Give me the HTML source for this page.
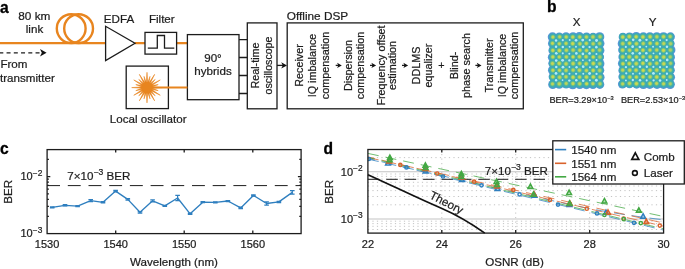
<!DOCTYPE html>
<html><head><meta charset="utf-8"><title>Figure</title>
<style>
html,body{margin:0;padding:0;background:#fff;}
svg{display:block;font-family:"Liberation Sans",sans-serif;fill:#1c1c1c;}
text{stroke:#1c1c1c;stroke-width:0.22px;}
.b{font-weight:bold;font-size:15.6px;fill:#000;stroke:#000;stroke-width:0.3px;}
.t{font-size:11.6px;}
.d{font-size:10.8px;}
.k{font-size:11px;}
.s{font-size:9.2px;}
.ln{stroke:#1c1c1c;stroke-width:1.3;fill:none;}
.or{stroke:#e8851f;fill:none;}
.wf{fill:#fff;}
</style></head><body>
<svg width="685" height="269" viewBox="0 0 685 269">
<rect width="685" height="269" fill="#fff"/>

<g id="panel-a">
<text class="b" x="0" y="12.8">a</text>
<text class="t" x="34.3" y="20" text-anchor="middle" style="font-size:11.8px">80 km</text>
<text class="t" x="34.5" y="33" text-anchor="middle">link</text>
<path class="or" stroke-width="2.2" d="M0 43.1H105.5"/>
<ellipse class="or" stroke-width="2.4" cx="71.2" cy="28.6" rx="14.4" ry="14.4"/>
<ellipse class="or" stroke-width="2.4" cx="78.6" cy="28.6" rx="14.4" ry="14.4"/>
<path class="or" stroke-width="2.2" d="M135 43.1H145M176.6 43.1H187.3"/>
<path d="M0 52.8H40" stroke="#1c1c1c" stroke-width="1.3" stroke-dasharray="4 3.25" stroke-dashoffset="0.7" fill="none"/>
<path d="M46.6 52.8L40 49L41.8 52.8L40 56.6Z" fill="#111"/>
<text class="t" x="0.4" y="68.4">From</text>
<text class="t" x="0" y="82.3">transmitter</text>
<text class="t" x="119" y="23.3" text-anchor="middle">EDFA</text>
<path class="ln" d="M105.6 26.3V60.5L135 43.3Z" fill="#fff"/>
<text class="t" x="161.8" y="23.3" text-anchor="middle">Filter</text>
<rect class="ln" x="145" y="32.4" width="31.6" height="21.7" fill="#fff"/>
<path class="ln" d="M147.8 48.1H157.3V35.5H164.5V48.1H174.3"/>
<rect class="ln" x="187.4" y="34.6" width="51.6" height="65.1" fill="#fff"/>
<text class="t" x="213" y="62.3" text-anchor="middle">90°</text>
<text class="t" x="213" y="75.3" text-anchor="middle">hybrids</text>
<rect class="ln" x="126.2" y="66.1" width="42.2" height="42.5" fill="#fff"/>
<path d="M152.16 86.92L162.30 87.60L152.16 88.28L158.20 90.60L151.80 89.59L160.25 95.25L151.13 90.77L155.20 95.80L150.17 91.73L154.65 100.85L148.99 92.40L150.00 98.80L147.68 92.76L147.00 102.90L146.32 92.76L144.00 98.80L145.01 92.40L139.35 100.85L143.83 91.73L138.80 95.80L142.87 90.77L133.75 95.25L142.20 89.59L135.80 90.60L141.84 88.28L131.70 87.60L141.84 86.92L135.80 84.60L142.20 85.61L133.75 79.95L142.87 84.43L138.80 79.40L143.83 83.47L139.35 74.35L145.01 82.80L144.00 76.40L146.32 82.44L147.00 72.30L147.68 82.44L150.00 76.40L148.99 82.80L154.65 74.35L150.17 83.47L155.20 79.40L151.13 84.43L160.25 79.95L151.80 85.61L158.20 84.60Z" fill="#e8851f" stroke="#e8851f" stroke-width="0.55" stroke-linejoin="miter"/>
<circle cx="147" cy="87.6" r="5.7" fill="#e8851f"/>
<path class="or" stroke-width="1.9" d="M147 87.5H187.4"/>
<text class="t" x="148.2" y="123.3" text-anchor="middle">Local oscillator</text>
<path class="ln" d="M239 39.6H247.3M239 57.5H247.3M239 75.5H247.3M239 93.5H247.3"/>
<rect class="ln" x="247.3" y="22.9" width="29.7" height="85.9" fill="#fff"/>
<text class="d" transform="translate(258.8 65.5) rotate(-90)" text-anchor="middle">Real-time</text>
<text class="d" transform="translate(271.6 65.5) rotate(-90)" text-anchor="middle" textLength="57.8" lengthAdjust="spacingAndGlyphs">oscilloscope</text>
<path class="ln" d="M277 65.4H283"/>
<path d="M287 65.4L281.2 62.3L282.8 65.4L281.2 68.5Z" fill="#111"/>
<text x="286.8" y="19.5" font-size="11.8">Offline DSP</text>
<rect class="ln" x="287.2" y="22.9" width="236.1" height="85.9" fill="#fff"/>
<text class="d" transform="translate(303.2 65.5) rotate(-90)" text-anchor="middle">Receiver</text>
<text class="d" transform="translate(315.9 65.5) rotate(-90)" text-anchor="middle">IQ imbalance</text>
<text class="d" transform="translate(328.5 65.5) rotate(-90)" text-anchor="middle" textLength="67.4" lengthAdjust="spacingAndGlyphs">compensation</text>
<text class="d" transform="translate(352.4 65.5) rotate(-90)" text-anchor="middle">Dispersion</text>
<text class="d" transform="translate(364.3 65.5) rotate(-90)" text-anchor="middle" textLength="67.4" lengthAdjust="spacingAndGlyphs">compensation</text>
<text class="d" transform="translate(384.5 65.5) rotate(-90)" text-anchor="middle">Frequency offset</text>
<text class="d" transform="translate(396.3 65.5) rotate(-90)" text-anchor="middle">estimation</text>
<text class="d" transform="translate(419.6 65.5) rotate(-90)" text-anchor="middle">DDLMS</text>
<text class="d" transform="translate(432 65.5) rotate(-90)" text-anchor="middle">equalizer</text>
<text class="d" transform="translate(457.6 65.5) rotate(-90)" text-anchor="middle">Blind-</text>
<text class="d" transform="translate(470 65.5) rotate(-90)" text-anchor="middle">phase search</text>
<text class="d" transform="translate(493.1 65.5) rotate(-90)" text-anchor="middle">Transmitter</text>
<text class="d" transform="translate(505.8 65.5) rotate(-90)" text-anchor="middle">IQ imbalance</text>
<text class="d" transform="translate(518.3 65.5) rotate(-90)" text-anchor="middle" textLength="67.4" lengthAdjust="spacingAndGlyphs">compensation</text>
<path class="ln" d="M335.7 65.4H339.0"/>
<path d="M341.8 65.4L337.1 62.7L338.3 65.4L337.1 68.1Z" fill="#111"/>
<path class="ln" d="M370.0 65.4H373.3"/>
<path d="M376.1 65.4L371.40000000000003 62.7L372.6 65.4L371.40000000000003 68.1Z" fill="#111"/>
<path class="ln" d="M402.0 65.4H405.3"/>
<path d="M408.1 65.4L403.40000000000003 62.7L404.6 65.4L403.40000000000003 68.1Z" fill="#111"/>
<path class="ln" d="M475.4 65.4H478.7"/>
<path d="M481.5 65.4L476.8 62.7L478.0 65.4L476.8 68.1Z" fill="#111"/>
<text class="d" x="441.3" y="69" text-anchor="middle">+</text>
</g>
<g id="panel-b">
<text class="b" x="547" y="12.3">b</text>
<text class="t" x="576.6" y="25.6" text-anchor="middle">X</text>
<text class="t" x="652.7" y="25.6" text-anchor="middle">Y</text>
<defs>
<radialGradient id="dot"><stop offset="0" stop-color="#dcd848"/><stop offset="0.3" stop-color="#c8d854"/><stop offset="0.6" stop-color="#70c47c"/><stop offset="1" stop-color="#3aa4b0" stop-opacity="0"/></radialGradient>
<filter id="bl" x="-10%" y="-10%" width="120%" height="120%"><feGaussianBlur stdDeviation="0.6"/></filter>
</defs>
<g filter="url(#bl)"><circle cx="552.48" cy="37.11" r="4.76" fill="#5596d6"/><circle cx="552.55" cy="43.59" r="4.57" fill="#5596d6"/><circle cx="552.79" cy="50.45" r="4.36" fill="#5596d6"/><circle cx="552.42" cy="57.17" r="4.56" fill="#5596d6"/><circle cx="552.86" cy="63.36" r="4.57" fill="#5596d6"/><circle cx="552.83" cy="70.19" r="4.87" fill="#5596d6"/><circle cx="552.94" cy="76.76" r="4.32" fill="#5596d6"/><circle cx="552.72" cy="84.49" r="4.53" fill="#5596d6"/><circle cx="559.26" cy="36.85" r="4.32" fill="#5596d6"/><circle cx="559.26" cy="84.19" r="4.60" fill="#5596d6"/><circle cx="566.00" cy="36.74" r="4.43" fill="#5596d6"/><circle cx="566.14" cy="84.10" r="4.31" fill="#5596d6"/><circle cx="573.09" cy="36.93" r="4.69" fill="#5596d6"/><circle cx="572.70" cy="84.53" r="4.82" fill="#5596d6"/><circle cx="579.39" cy="36.80" r="4.73" fill="#5596d6"/><circle cx="579.75" cy="84.49" r="4.55" fill="#5596d6"/><circle cx="586.55" cy="37.00" r="4.48" fill="#5596d6"/><circle cx="586.40" cy="84.46" r="4.81" fill="#5596d6"/><circle cx="593.08" cy="36.95" r="4.32" fill="#5596d6"/><circle cx="592.93" cy="84.41" r="4.55" fill="#5596d6"/><circle cx="599.61" cy="36.93" r="4.72" fill="#5596d6"/><circle cx="599.91" cy="43.51" r="4.56" fill="#5596d6"/><circle cx="599.82" cy="50.45" r="4.61" fill="#5596d6"/><circle cx="599.75" cy="56.96" r="4.32" fill="#5596d6"/><circle cx="599.54" cy="63.78" r="4.89" fill="#5596d6"/><circle cx="599.87" cy="70.29" r="4.40" fill="#5596d6"/><circle cx="599.81" cy="77.33" r="4.76" fill="#5596d6"/><circle cx="599.83" cy="84.45" r="4.44" fill="#5596d6"/><rect x="550.10" y="34.30" width="52.31" height="52.63" fill="#3caab6"/><circle cx="552.70" cy="36.90" r="3.7" fill="#3caab6"/><circle cx="552.70" cy="43.59" r="3.7" fill="#3caab6"/><circle cx="552.70" cy="50.28" r="3.7" fill="#3caab6"/><circle cx="552.70" cy="56.97" r="3.7" fill="#3caab6"/><circle cx="552.70" cy="63.66" r="3.7" fill="#3caab6"/><circle cx="552.70" cy="70.35" r="3.7" fill="#3caab6"/><circle cx="552.70" cy="77.04" r="3.7" fill="#3caab6"/><circle cx="552.70" cy="84.13" r="3.7" fill="#3caab6"/><circle cx="559.43" cy="36.90" r="3.7" fill="#3caab6"/><circle cx="559.43" cy="84.13" r="3.7" fill="#3caab6"/><circle cx="566.16" cy="36.90" r="3.7" fill="#3caab6"/><circle cx="566.16" cy="84.13" r="3.7" fill="#3caab6"/><circle cx="572.89" cy="36.90" r="3.7" fill="#3caab6"/><circle cx="572.89" cy="84.13" r="3.7" fill="#3caab6"/><circle cx="579.62" cy="36.90" r="3.7" fill="#3caab6"/><circle cx="579.62" cy="84.13" r="3.7" fill="#3caab6"/><circle cx="586.35" cy="36.90" r="3.7" fill="#3caab6"/><circle cx="586.35" cy="84.13" r="3.7" fill="#3caab6"/><circle cx="593.08" cy="36.90" r="3.7" fill="#3caab6"/><circle cx="593.08" cy="84.13" r="3.7" fill="#3caab6"/><circle cx="599.81" cy="36.90" r="3.7" fill="#3caab6"/><circle cx="599.81" cy="43.59" r="3.7" fill="#3caab6"/><circle cx="599.81" cy="50.28" r="3.7" fill="#3caab6"/><circle cx="599.81" cy="56.97" r="3.7" fill="#3caab6"/><circle cx="599.81" cy="63.66" r="3.7" fill="#3caab6"/><circle cx="599.81" cy="70.35" r="3.7" fill="#3caab6"/><circle cx="599.81" cy="77.04" r="3.7" fill="#3caab6"/><circle cx="599.81" cy="84.13" r="3.7" fill="#3caab6"/><circle cx="556.07" cy="40.52" r="1.25" fill="#b0eefb"/><circle cx="556.04" cy="46.80" r="1.23" fill="#b0eefb"/><circle cx="556.34" cy="53.33" r="1.37" fill="#b0eefb"/><circle cx="556.26" cy="60.55" r="1.34" fill="#b0eefb"/><circle cx="556.25" cy="67.02" r="1.24" fill="#b0eefb"/><circle cx="556.02" cy="73.43" r="1.42" fill="#b0eefb"/><circle cx="556.11" cy="80.20" r="1.20" fill="#b0eefb"/><circle cx="562.79" cy="40.16" r="1.11" fill="#b0eefb"/><circle cx="562.82" cy="47.01" r="1.27" fill="#b0eefb"/><circle cx="562.77" cy="53.34" r="1.04" fill="#b0eefb"/><circle cx="562.60" cy="60.37" r="1.42" fill="#b0eefb"/><circle cx="562.97" cy="67.18" r="1.39" fill="#b0eefb"/><circle cx="562.65" cy="73.90" r="1.30" fill="#b0eefb"/><circle cx="562.54" cy="80.10" r="0.91" fill="#b0eefb"/><circle cx="569.68" cy="40.09" r="0.97" fill="#b0eefb"/><circle cx="569.60" cy="46.84" r="0.94" fill="#b0eefb"/><circle cx="569.32" cy="53.64" r="1.00" fill="#b0eefb"/><circle cx="569.39" cy="60.44" r="1.17" fill="#b0eefb"/><circle cx="569.42" cy="66.99" r="0.91" fill="#b0eefb"/><circle cx="569.46" cy="73.65" r="1.01" fill="#b0eefb"/><circle cx="569.29" cy="80.62" r="1.21" fill="#b0eefb"/><circle cx="576.08" cy="40.31" r="1.39" fill="#b0eefb"/><circle cx="575.97" cy="46.65" r="0.99" fill="#b0eefb"/><circle cx="576.39" cy="53.42" r="1.32" fill="#b0eefb"/><circle cx="576.36" cy="60.34" r="1.03" fill="#b0eefb"/><circle cx="576.54" cy="67.18" r="1.21" fill="#b0eefb"/><circle cx="576.09" cy="73.78" r="1.14" fill="#b0eefb"/><circle cx="576.30" cy="80.28" r="1.28" fill="#b0eefb"/><circle cx="582.72" cy="40.12" r="1.48" fill="#b0eefb"/><circle cx="583.21" cy="46.82" r="1.42" fill="#b0eefb"/><circle cx="582.87" cy="53.89" r="1.35" fill="#b0eefb"/><circle cx="582.93" cy="60.17" r="0.91" fill="#b0eefb"/><circle cx="583.21" cy="66.73" r="1.39" fill="#b0eefb"/><circle cx="583.26" cy="73.74" r="1.00" fill="#b0eefb"/><circle cx="583.21" cy="80.67" r="1.32" fill="#b0eefb"/><circle cx="589.72" cy="40.17" r="1.11" fill="#b0eefb"/><circle cx="589.54" cy="47.04" r="1.16" fill="#b0eefb"/><circle cx="589.53" cy="53.39" r="1.30" fill="#b0eefb"/><circle cx="589.59" cy="60.31" r="1.10" fill="#b0eefb"/><circle cx="589.94" cy="67.24" r="0.91" fill="#b0eefb"/><circle cx="589.54" cy="73.59" r="1.49" fill="#b0eefb"/><circle cx="589.88" cy="80.29" r="1.03" fill="#b0eefb"/><circle cx="596.55" cy="40.45" r="1.46" fill="#b0eefb"/><circle cx="596.35" cy="47.16" r="1.31" fill="#b0eefb"/><circle cx="596.44" cy="53.92" r="1.04" fill="#b0eefb"/><circle cx="596.58" cy="60.07" r="1.00" fill="#b0eefb"/><circle cx="596.69" cy="66.83" r="1.36" fill="#b0eefb"/><circle cx="596.51" cy="73.90" r="1.12" fill="#b0eefb"/><circle cx="596.35" cy="80.26" r="1.42" fill="#b0eefb"/><circle cx="552.93" cy="37.09" r="3.20" fill="url(#dot)" opacity="0.95"/><circle cx="552.50" cy="43.36" r="3.18" fill="url(#dot)" opacity="0.95"/><circle cx="552.84" cy="50.44" r="3.27" fill="url(#dot)" opacity="0.98"/><circle cx="552.84" cy="56.91" r="3.35" fill="url(#dot)" opacity="0.95"/><circle cx="552.49" cy="63.54" r="3.46" fill="url(#dot)" opacity="0.91"/><circle cx="552.91" cy="70.33" r="3.25" fill="url(#dot)" opacity="0.95"/><circle cx="552.86" cy="76.80" r="3.38" fill="url(#dot)" opacity="0.97"/><circle cx="552.51" cy="83.92" r="3.16" fill="url(#dot)" opacity="0.89"/><circle cx="559.67" cy="36.86" r="3.19" fill="url(#dot)" opacity="0.91"/><circle cx="559.30" cy="43.71" r="3.19" fill="url(#dot)" opacity="0.90"/><circle cx="559.37" cy="50.52" r="3.47" fill="url(#dot)" opacity="0.99"/><circle cx="559.31" cy="56.96" r="3.19" fill="url(#dot)" opacity="0.92"/><circle cx="559.20" cy="63.42" r="3.49" fill="url(#dot)" opacity="0.96"/><circle cx="559.48" cy="70.32" r="3.26" fill="url(#dot)" opacity="0.92"/><circle cx="559.64" cy="77.27" r="3.49" fill="url(#dot)" opacity="0.89"/><circle cx="559.29" cy="83.79" r="3.49" fill="url(#dot)" opacity="0.89"/><circle cx="566.25" cy="36.98" r="3.24" fill="url(#dot)" opacity="0.95"/><circle cx="566.06" cy="43.46" r="3.18" fill="url(#dot)" opacity="0.94"/><circle cx="566.40" cy="50.25" r="3.38" fill="url(#dot)" opacity="0.91"/><circle cx="566.38" cy="56.92" r="3.26" fill="url(#dot)" opacity="0.96"/><circle cx="566.07" cy="63.83" r="3.46" fill="url(#dot)" opacity="0.92"/><circle cx="566.08" cy="70.37" r="3.35" fill="url(#dot)" opacity="0.92"/><circle cx="566.03" cy="76.80" r="3.24" fill="url(#dot)" opacity="0.95"/><circle cx="566.19" cy="83.52" r="3.18" fill="url(#dot)" opacity="0.89"/><circle cx="572.79" cy="37.05" r="3.32" fill="url(#dot)" opacity="0.96"/><circle cx="572.72" cy="43.59" r="3.43" fill="url(#dot)" opacity="0.98"/><circle cx="573.11" cy="50.12" r="3.42" fill="url(#dot)" opacity="0.89"/><circle cx="573.05" cy="56.88" r="3.19" fill="url(#dot)" opacity="1.00"/><circle cx="573.10" cy="63.56" r="3.46" fill="url(#dot)" opacity="0.94"/><circle cx="573.10" cy="70.12" r="3.26" fill="url(#dot)" opacity="0.90"/><circle cx="573.04" cy="77.24" r="3.44" fill="url(#dot)" opacity="0.99"/><circle cx="572.98" cy="83.57" r="3.30" fill="url(#dot)" opacity="0.97"/><circle cx="579.73" cy="36.98" r="3.24" fill="url(#dot)" opacity="0.90"/><circle cx="579.85" cy="43.74" r="3.34" fill="url(#dot)" opacity="0.89"/><circle cx="579.80" cy="50.26" r="3.29" fill="url(#dot)" opacity="0.94"/><circle cx="579.50" cy="56.73" r="3.38" fill="url(#dot)" opacity="0.92"/><circle cx="579.66" cy="63.44" r="3.27" fill="url(#dot)" opacity="0.93"/><circle cx="579.43" cy="70.23" r="3.44" fill="url(#dot)" opacity="0.90"/><circle cx="579.57" cy="77.10" r="3.23" fill="url(#dot)" opacity="0.93"/><circle cx="579.63" cy="83.73" r="3.38" fill="url(#dot)" opacity="0.88"/><circle cx="586.44" cy="37.02" r="3.23" fill="url(#dot)" opacity="0.93"/><circle cx="586.34" cy="43.45" r="3.29" fill="url(#dot)" opacity="0.94"/><circle cx="586.55" cy="50.49" r="3.25" fill="url(#dot)" opacity="0.95"/><circle cx="586.12" cy="56.76" r="3.33" fill="url(#dot)" opacity="0.96"/><circle cx="586.18" cy="63.79" r="3.46" fill="url(#dot)" opacity="0.99"/><circle cx="586.45" cy="70.52" r="3.28" fill="url(#dot)" opacity="0.92"/><circle cx="586.47" cy="77.09" r="3.45" fill="url(#dot)" opacity="0.96"/><circle cx="586.58" cy="83.77" r="3.21" fill="url(#dot)" opacity="0.99"/><circle cx="592.94" cy="36.93" r="3.42" fill="url(#dot)" opacity="0.91"/><circle cx="593.17" cy="43.70" r="3.27" fill="url(#dot)" opacity="0.89"/><circle cx="592.91" cy="50.39" r="3.16" fill="url(#dot)" opacity="0.94"/><circle cx="593.23" cy="57.03" r="3.24" fill="url(#dot)" opacity="1.00"/><circle cx="593.31" cy="63.48" r="3.42" fill="url(#dot)" opacity="0.99"/><circle cx="593.16" cy="70.45" r="3.31" fill="url(#dot)" opacity="0.98"/><circle cx="593.32" cy="76.98" r="3.43" fill="url(#dot)" opacity="0.99"/><circle cx="592.91" cy="83.64" r="3.19" fill="url(#dot)" opacity="0.93"/><circle cx="600.04" cy="36.71" r="3.36" fill="url(#dot)" opacity="0.84"/><circle cx="599.62" cy="43.49" r="3.24" fill="url(#dot)" opacity="0.79"/><circle cx="599.56" cy="50.12" r="3.30" fill="url(#dot)" opacity="0.82"/><circle cx="599.87" cy="57.02" r="3.44" fill="url(#dot)" opacity="0.75"/><circle cx="599.70" cy="63.68" r="3.25" fill="url(#dot)" opacity="0.77"/><circle cx="599.69" cy="70.44" r="3.43" fill="url(#dot)" opacity="0.81"/><circle cx="600.05" cy="77.06" r="3.32" fill="url(#dot)" opacity="0.83"/><circle cx="599.94" cy="83.77" r="3.28" fill="url(#dot)" opacity="0.84"/></g>
<g filter="url(#bl)"><circle cx="622.97" cy="37.07" r="4.33" fill="#5596d6"/><circle cx="622.45" cy="43.69" r="4.74" fill="#5596d6"/><circle cx="622.80" cy="50.06" r="4.66" fill="#5596d6"/><circle cx="622.76" cy="56.92" r="4.40" fill="#5596d6"/><circle cx="622.66" cy="63.50" r="4.73" fill="#5596d6"/><circle cx="623.00" cy="70.52" r="4.63" fill="#5596d6"/><circle cx="622.67" cy="76.80" r="4.32" fill="#5596d6"/><circle cx="622.42" cy="84.11" r="4.49" fill="#5596d6"/><circle cx="629.44" cy="37.04" r="4.62" fill="#5596d6"/><circle cx="629.55" cy="83.97" r="4.31" fill="#5596d6"/><circle cx="636.22" cy="36.58" r="4.61" fill="#5596d6"/><circle cx="636.62" cy="84.23" r="4.41" fill="#5596d6"/><circle cx="643.37" cy="36.98" r="4.74" fill="#5596d6"/><circle cx="643.37" cy="84.29" r="4.77" fill="#5596d6"/><circle cx="649.85" cy="37.09" r="4.88" fill="#5596d6"/><circle cx="649.74" cy="84.28" r="4.73" fill="#5596d6"/><circle cx="656.73" cy="36.82" r="4.59" fill="#5596d6"/><circle cx="657.00" cy="84.13" r="4.80" fill="#5596d6"/><circle cx="663.47" cy="37.03" r="4.84" fill="#5596d6"/><circle cx="663.54" cy="84.17" r="4.85" fill="#5596d6"/><circle cx="670.50" cy="36.79" r="4.43" fill="#5596d6"/><circle cx="670.26" cy="43.61" r="4.40" fill="#5596d6"/><circle cx="670.61" cy="50.04" r="4.85" fill="#5596d6"/><circle cx="670.26" cy="57.14" r="4.72" fill="#5596d6"/><circle cx="670.37" cy="63.57" r="4.69" fill="#5596d6"/><circle cx="670.42" cy="70.14" r="4.42" fill="#5596d6"/><circle cx="670.38" cy="77.20" r="4.67" fill="#5596d6"/><circle cx="670.12" cy="84.32" r="4.74" fill="#5596d6"/><rect x="620.10" y="34.20" width="52.87" height="52.63" fill="#3caab6"/><circle cx="622.70" cy="36.80" r="3.7" fill="#3caab6"/><circle cx="622.70" cy="43.49" r="3.7" fill="#3caab6"/><circle cx="622.70" cy="50.18" r="3.7" fill="#3caab6"/><circle cx="622.70" cy="56.87" r="3.7" fill="#3caab6"/><circle cx="622.70" cy="63.56" r="3.7" fill="#3caab6"/><circle cx="622.70" cy="70.25" r="3.7" fill="#3caab6"/><circle cx="622.70" cy="76.94" r="3.7" fill="#3caab6"/><circle cx="622.70" cy="84.03" r="3.7" fill="#3caab6"/><circle cx="629.51" cy="36.80" r="3.7" fill="#3caab6"/><circle cx="629.51" cy="84.03" r="3.7" fill="#3caab6"/><circle cx="636.32" cy="36.80" r="3.7" fill="#3caab6"/><circle cx="636.32" cy="84.03" r="3.7" fill="#3caab6"/><circle cx="643.13" cy="36.80" r="3.7" fill="#3caab6"/><circle cx="643.13" cy="84.03" r="3.7" fill="#3caab6"/><circle cx="649.94" cy="36.80" r="3.7" fill="#3caab6"/><circle cx="649.94" cy="84.03" r="3.7" fill="#3caab6"/><circle cx="656.75" cy="36.80" r="3.7" fill="#3caab6"/><circle cx="656.75" cy="84.03" r="3.7" fill="#3caab6"/><circle cx="663.56" cy="36.80" r="3.7" fill="#3caab6"/><circle cx="663.56" cy="84.03" r="3.7" fill="#3caab6"/><circle cx="670.37" cy="36.80" r="3.7" fill="#3caab6"/><circle cx="670.37" cy="43.49" r="3.7" fill="#3caab6"/><circle cx="670.37" cy="50.18" r="3.7" fill="#3caab6"/><circle cx="670.37" cy="56.87" r="3.7" fill="#3caab6"/><circle cx="670.37" cy="63.56" r="3.7" fill="#3caab6"/><circle cx="670.37" cy="70.25" r="3.7" fill="#3caab6"/><circle cx="670.37" cy="76.94" r="3.7" fill="#3caab6"/><circle cx="670.37" cy="84.03" r="3.7" fill="#3caab6"/><circle cx="626.35" cy="39.96" r="1.35" fill="#b0eefb"/><circle cx="625.84" cy="46.93" r="1.06" fill="#b0eefb"/><circle cx="625.94" cy="53.75" r="0.96" fill="#b0eefb"/><circle cx="626.12" cy="60.43" r="1.05" fill="#b0eefb"/><circle cx="625.93" cy="67.13" r="1.15" fill="#b0eefb"/><circle cx="626.24" cy="73.31" r="1.12" fill="#b0eefb"/><circle cx="625.91" cy="80.39" r="0.95" fill="#b0eefb"/><circle cx="633.19" cy="39.86" r="1.34" fill="#b0eefb"/><circle cx="632.63" cy="46.69" r="1.39" fill="#b0eefb"/><circle cx="632.71" cy="53.34" r="1.31" fill="#b0eefb"/><circle cx="632.85" cy="59.94" r="1.49" fill="#b0eefb"/><circle cx="632.71" cy="66.63" r="1.11" fill="#b0eefb"/><circle cx="632.98" cy="73.74" r="0.97" fill="#b0eefb"/><circle cx="632.82" cy="80.00" r="1.17" fill="#b0eefb"/><circle cx="639.88" cy="40.29" r="1.44" fill="#b0eefb"/><circle cx="639.88" cy="47.05" r="1.32" fill="#b0eefb"/><circle cx="639.71" cy="53.36" r="1.30" fill="#b0eefb"/><circle cx="639.61" cy="59.98" r="1.17" fill="#b0eefb"/><circle cx="639.95" cy="66.68" r="1.25" fill="#b0eefb"/><circle cx="639.66" cy="73.60" r="0.99" fill="#b0eefb"/><circle cx="640.00" cy="80.14" r="1.26" fill="#b0eefb"/><circle cx="646.49" cy="39.86" r="1.23" fill="#b0eefb"/><circle cx="646.32" cy="46.57" r="0.92" fill="#b0eefb"/><circle cx="646.33" cy="53.28" r="1.28" fill="#b0eefb"/><circle cx="646.54" cy="60.51" r="1.46" fill="#b0eefb"/><circle cx="646.83" cy="66.74" r="1.17" fill="#b0eefb"/><circle cx="646.39" cy="73.65" r="1.27" fill="#b0eefb"/><circle cx="646.72" cy="80.41" r="1.05" fill="#b0eefb"/><circle cx="653.30" cy="40.16" r="0.90" fill="#b0eefb"/><circle cx="653.07" cy="46.78" r="0.97" fill="#b0eefb"/><circle cx="653.48" cy="53.37" r="0.96" fill="#b0eefb"/><circle cx="653.15" cy="60.05" r="1.03" fill="#b0eefb"/><circle cx="653.36" cy="66.88" r="1.09" fill="#b0eefb"/><circle cx="653.43" cy="73.42" r="1.44" fill="#b0eefb"/><circle cx="653.62" cy="80.42" r="1.16" fill="#b0eefb"/><circle cx="660.16" cy="40.19" r="0.93" fill="#b0eefb"/><circle cx="660.11" cy="46.85" r="1.01" fill="#b0eefb"/><circle cx="659.91" cy="53.71" r="1.12" fill="#b0eefb"/><circle cx="660.17" cy="60.47" r="1.27" fill="#b0eefb"/><circle cx="660.03" cy="67.20" r="1.12" fill="#b0eefb"/><circle cx="659.87" cy="73.71" r="0.96" fill="#b0eefb"/><circle cx="660.04" cy="80.49" r="1.30" fill="#b0eefb"/><circle cx="666.67" cy="40.12" r="1.15" fill="#b0eefb"/><circle cx="666.96" cy="46.66" r="1.25" fill="#b0eefb"/><circle cx="666.71" cy="53.40" r="1.12" fill="#b0eefb"/><circle cx="667.23" cy="59.96" r="1.35" fill="#b0eefb"/><circle cx="666.78" cy="66.95" r="1.14" fill="#b0eefb"/><circle cx="666.94" cy="73.75" r="1.14" fill="#b0eefb"/><circle cx="666.74" cy="80.06" r="0.95" fill="#b0eefb"/><circle cx="622.77" cy="37.03" r="3.39" fill="url(#dot)" opacity="0.98"/><circle cx="622.78" cy="43.63" r="3.40" fill="url(#dot)" opacity="0.88"/><circle cx="622.63" cy="50.16" r="3.43" fill="url(#dot)" opacity="0.94"/><circle cx="622.71" cy="56.86" r="3.48" fill="url(#dot)" opacity="0.91"/><circle cx="622.92" cy="63.73" r="3.25" fill="url(#dot)" opacity="0.98"/><circle cx="622.69" cy="70.13" r="3.30" fill="url(#dot)" opacity="0.91"/><circle cx="622.91" cy="76.98" r="3.44" fill="url(#dot)" opacity="0.96"/><circle cx="622.63" cy="83.88" r="3.20" fill="url(#dot)" opacity="0.89"/><circle cx="629.29" cy="36.59" r="3.46" fill="url(#dot)" opacity="0.93"/><circle cx="629.58" cy="43.30" r="3.25" fill="url(#dot)" opacity="1.00"/><circle cx="629.60" cy="50.27" r="3.30" fill="url(#dot)" opacity="0.91"/><circle cx="629.32" cy="56.89" r="3.48" fill="url(#dot)" opacity="0.94"/><circle cx="629.31" cy="63.57" r="3.40" fill="url(#dot)" opacity="0.97"/><circle cx="629.71" cy="70.23" r="3.40" fill="url(#dot)" opacity="0.91"/><circle cx="629.76" cy="77.08" r="3.35" fill="url(#dot)" opacity="0.93"/><circle cx="629.48" cy="83.39" r="3.36" fill="url(#dot)" opacity="0.90"/><circle cx="636.16" cy="36.81" r="3.32" fill="url(#dot)" opacity="0.99"/><circle cx="636.43" cy="43.71" r="3.40" fill="url(#dot)" opacity="0.93"/><circle cx="636.55" cy="50.10" r="3.41" fill="url(#dot)" opacity="0.94"/><circle cx="636.45" cy="57.05" r="3.23" fill="url(#dot)" opacity="0.96"/><circle cx="636.27" cy="63.64" r="3.49" fill="url(#dot)" opacity="0.95"/><circle cx="636.08" cy="70.23" r="3.40" fill="url(#dot)" opacity="0.96"/><circle cx="636.40" cy="77.10" r="3.16" fill="url(#dot)" opacity="0.99"/><circle cx="636.43" cy="83.68" r="3.47" fill="url(#dot)" opacity="0.99"/><circle cx="642.93" cy="36.96" r="3.42" fill="url(#dot)" opacity="0.99"/><circle cx="643.25" cy="43.53" r="3.22" fill="url(#dot)" opacity="0.90"/><circle cx="642.95" cy="50.24" r="3.30" fill="url(#dot)" opacity="0.98"/><circle cx="643.16" cy="56.85" r="3.22" fill="url(#dot)" opacity="0.91"/><circle cx="642.92" cy="63.31" r="3.32" fill="url(#dot)" opacity="1.00"/><circle cx="643.21" cy="70.38" r="3.32" fill="url(#dot)" opacity="0.98"/><circle cx="643.05" cy="76.82" r="3.33" fill="url(#dot)" opacity="0.96"/><circle cx="642.92" cy="83.76" r="3.21" fill="url(#dot)" opacity="0.88"/><circle cx="650.08" cy="36.75" r="3.39" fill="url(#dot)" opacity="0.97"/><circle cx="650.12" cy="43.31" r="3.21" fill="url(#dot)" opacity="0.97"/><circle cx="649.92" cy="50.08" r="3.15" fill="url(#dot)" opacity="0.93"/><circle cx="650.17" cy="56.80" r="3.34" fill="url(#dot)" opacity="0.95"/><circle cx="649.91" cy="63.75" r="3.26" fill="url(#dot)" opacity="0.93"/><circle cx="649.93" cy="70.27" r="3.47" fill="url(#dot)" opacity="0.96"/><circle cx="650.10" cy="76.84" r="3.38" fill="url(#dot)" opacity="0.89"/><circle cx="650.02" cy="83.58" r="3.44" fill="url(#dot)" opacity="0.98"/><circle cx="656.82" cy="36.75" r="3.34" fill="url(#dot)" opacity="0.89"/><circle cx="656.90" cy="43.55" r="3.26" fill="url(#dot)" opacity="0.98"/><circle cx="656.73" cy="50.05" r="3.25" fill="url(#dot)" opacity="0.91"/><circle cx="656.56" cy="57.03" r="3.28" fill="url(#dot)" opacity="0.99"/><circle cx="656.66" cy="63.35" r="3.31" fill="url(#dot)" opacity="0.92"/><circle cx="656.72" cy="70.15" r="3.46" fill="url(#dot)" opacity="0.90"/><circle cx="656.72" cy="77.01" r="3.48" fill="url(#dot)" opacity="0.99"/><circle cx="656.55" cy="83.50" r="3.22" fill="url(#dot)" opacity="0.92"/><circle cx="663.50" cy="36.73" r="3.43" fill="url(#dot)" opacity="0.96"/><circle cx="663.71" cy="43.56" r="3.29" fill="url(#dot)" opacity="0.91"/><circle cx="663.48" cy="50.37" r="3.47" fill="url(#dot)" opacity="0.98"/><circle cx="663.65" cy="57.09" r="3.41" fill="url(#dot)" opacity="0.94"/><circle cx="663.74" cy="63.78" r="3.41" fill="url(#dot)" opacity="0.97"/><circle cx="663.46" cy="70.31" r="3.38" fill="url(#dot)" opacity="1.00"/><circle cx="663.51" cy="76.78" r="3.49" fill="url(#dot)" opacity="0.92"/><circle cx="663.55" cy="83.83" r="3.22" fill="url(#dot)" opacity="0.92"/><circle cx="670.18" cy="36.56" r="3.27" fill="url(#dot)" opacity="0.85"/><circle cx="670.58" cy="43.68" r="3.42" fill="url(#dot)" opacity="0.78"/><circle cx="670.39" cy="50.05" r="3.44" fill="url(#dot)" opacity="0.79"/><circle cx="670.26" cy="56.94" r="3.20" fill="url(#dot)" opacity="0.79"/><circle cx="670.58" cy="63.36" r="3.20" fill="url(#dot)" opacity="0.78"/><circle cx="670.25" cy="70.21" r="3.24" fill="url(#dot)" opacity="0.77"/><circle cx="670.24" cy="76.81" r="3.36" fill="url(#dot)" opacity="0.78"/><circle cx="670.31" cy="83.76" r="3.17" fill="url(#dot)" opacity="0.78"/></g>
<text class="s" x="549.4" y="103.1">BER=3.29×10<tspan dy="-3.6" font-size="5.6">−3</tspan></text>
<text class="s" x="620.9" y="103.1">BER=2.53×10<tspan dy="-3.6" font-size="5.6">−3</tspan></text>
</g>
<g id="panel-c">
<text class="b" x="0" y="153.6">c</text>
<rect class="ln" x="47.1" y="149.6" width="254.00000000000003" height="84.0" stroke-width="1.1"/>
<path class="ln" stroke-width="1" d="M115.7 233.6v-3M115.7 149.6v3M184.2 233.6v-3M184.2 149.6v3M252.8 233.6v-3M252.8 149.6v3M47.1 176.6h3.2M301.1 176.6h-3.2M47.1 216.4h1.8M301.1 216.4h-1.8M47.1 206.4h1.8M301.1 206.4h-1.8M47.1 199.3h1.8M301.1 199.3h-1.8M47.1 193.8h1.8M301.1 193.8h-1.8M47.1 189.2h1.8M301.1 189.2h-1.8M47.1 185.4h1.8M301.1 185.4h-1.8M47.1 182.1h1.8M301.1 182.1h-1.8M47.1 179.2h1.8M301.1 179.2h-1.8M47.1 159.4h1.8M301.1 159.4h-1.8"/>
<path d="M47.1 185.6H301.1" stroke="#1c1c1c" stroke-width="1" stroke-dasharray="12.9 7.8" fill="none"/>
<text class="t" x="67.3" y="180.4">7×10<tspan dy="-5" font-size="8.6">−3</tspan><tspan dy="5"> BER</tspan></text>
<text class="k" x="42.3" y="180.4" text-anchor="end">10<tspan dy="-4.9" font-size="8.4">−2</tspan></text>
<text class="k" x="42.3" y="237.4" text-anchor="end">10<tspan dy="-4.9" font-size="8.4">−3</tspan></text>
<text class="k" x="47.1" y="248.2" text-anchor="middle">1530</text>
<text class="k" x="115.7" y="248.2" text-anchor="middle">1540</text>
<text class="k" x="184.2" y="248.2" text-anchor="middle">1550</text>
<text class="k" x="252.8" y="248.2" text-anchor="middle">1560</text>
<text class="t" x="174" y="265.6" text-anchor="middle">Wavelength (nm)</text>
<text class="t" transform="translate(11.8 191.8) rotate(-90)" text-anchor="middle">BER</text>
<path d="M52.2 207.3 L65 205.3 L77.6 206.2 L90.7 200.6 L103 202.3 L115.6 191.1 L127.8 199.4 L140 212.3 L152.6 200.8 L164.8 205.8 L177.6 198 L190.1 213.8 L202.8 202.2 L215.3 202.4 L227.9 201 L240.7 207.9 L253.4 195.4 L266.6 203.5 L278.9 201.9 L292.3 192.4" stroke="#2f7fbf" stroke-width="1.35" fill="none" stroke-linejoin="round"/>
<path d="M52.2 206.8V207.8M49.900000000000006 206.8h4.6M49.900000000000006 207.8h4.6M65 204.70000000000002V205.9M62.7 204.70000000000002h4.6M62.7 205.9h4.6M77.6 205.7V206.7M75.3 205.7h4.6M75.3 206.7h4.6M90.7 199.7V201.5M88.4 199.7h4.6M88.4 201.5h4.6M103 201.70000000000002V202.9M100.7 201.70000000000002h4.6M100.7 202.9h4.6M115.6 190.4V191.79999999999998M113.3 190.4h4.6M113.3 191.79999999999998h4.6M127.8 198.70000000000002V200.1M125.5 198.70000000000002h4.6M125.5 200.1h4.6M140 211.5V213.10000000000002M137.7 211.5h4.6M137.7 213.10000000000002h4.6M152.6 199.8V201.8M150.29999999999998 199.8h4.6M150.29999999999998 201.8h4.6M164.8 205.3V206.3M162.5 205.3h4.6M162.5 206.3h4.6M177.6 195.4V200.6M175.29999999999998 195.4h4.6M175.29999999999998 200.6h4.6M190.1 213.20000000000002V214.4M187.79999999999998 213.20000000000002h4.6M187.79999999999998 214.4h4.6M202.8 201.7V202.7M200.5 201.7h4.6M200.5 202.7h4.6M215.3 201.9V202.9M213.0 201.9h4.6M213.0 202.9h4.6M227.9 200.5V201.5M225.6 200.5h4.6M225.6 201.5h4.6M240.7 207.20000000000002V208.6M238.39999999999998 207.20000000000002h4.6M238.39999999999998 208.6h4.6M253.4 194.8V196.0M251.1 194.8h4.6M251.1 196.0h4.6M266.6 201.9V205.1M264.3 201.9h4.6M264.3 205.1h4.6M278.9 201.3V202.5M276.59999999999997 201.3h4.6M276.59999999999997 202.5h4.6M292.3 190.70000000000002V194.1M290.0 190.70000000000002h4.6M290.0 194.1h4.6" stroke="#2f7fbf" stroke-width="1.25" fill="none"/>
</g>
<g id="panel-d">
<text class="b" x="323.6" y="153.6">d</text>
<path d="M367.9 229.5H663.6M367.9 226.3H663.6M367.9 223.6H663.6M367.9 221.2H663.6M367.9 204.8H663.6M367.9 196.5H663.6M367.9 190.6H663.6M367.9 186.0H663.6M367.9 182.3H663.6M367.9 179.1H663.6M367.9 176.4H663.6M367.9 174.0H663.6M367.9 157.6H663.6M441.8 149.5V233.1M515.7 149.5V233.1M589.7 149.5V233.1" stroke="#bdbdbd" stroke-width="0.9" stroke-dasharray="1.2 3.3" fill="none"/>
<path d="M367.9 171.8H663.6M367.9 219.0H663.6" stroke="#c4c4c4" stroke-width="1.1" fill="none"/>
<path d="M367.9 179.3H663.6" stroke="#1c1c1c" stroke-width="1" stroke-dasharray="11.5 6.9" fill="none"/>
<path d="M367.9 174.7C391 185 417 198 443 209C456 214.6 469 222 484.8 233.1" stroke="#111" stroke-width="1.7" fill="none"/>
<text class="t" transform="translate(428.7 197.7) rotate(27.5)">Theory</text>
<clipPath id="cd"><rect x="367.9" y="149.5" width="295.70000000000005" height="83.6"/></clipPath>
<g clip-path="url(#cd)">
<path d="M367.9 159.1L560 202.4Q610 213.6 663.6 219.8" stroke="#2f7fbf" stroke-width="0.75" stroke-dasharray="11 7" fill="none"/>
<path d="M367.9 158.4L663.6 230.1" stroke="#2f7fbf" stroke-width="0.75" stroke-dasharray="11 7" stroke-dashoffset="4" fill="none"/>
<path d="M367.9 157.5L663.6 223.0" stroke="#d9622b" stroke-width="0.75" stroke-dasharray="11 7" stroke-dashoffset="0" fill="none"/>
<path d="M367.9 156.9L663.6 226.2" stroke="#d9622b" stroke-width="0.75" stroke-dasharray="11 7" stroke-dashoffset="4" fill="none"/>
<path d="M367.9 153.4L663.6 216.5" stroke="#43a843" stroke-width="0.75" stroke-dasharray="11 7" stroke-dashoffset="0" fill="none"/>
<path d="M367.9 157.4L663.6 228.9" stroke="#43a843" stroke-width="0.75" stroke-dasharray="11 7" stroke-dashoffset="4" fill="none"/>
<path d="M388.0 160.6l2.45 4.5h-4.9ZM425.5 168.6l2.45 4.5h-4.9ZM461.9 177.1l2.45 4.5h-4.9ZM497.5 186.1l2.45 4.5h-4.9ZM534.5 192.7l2.45 4.5h-4.9ZM569.5 201.9l2.45 4.5h-4.9ZM606.0 210.1l2.45 4.5h-4.9ZM643.1 213.7l2.45 4.5h-4.9Z" stroke="#2f7fbf" stroke-width="1.45" fill="#2f7fbf" fill-opacity="0.4" stroke-linejoin="miter"/>
<circle cx="368.9" cy="159.0" r="1.65" stroke="#2f7fbf" stroke-width="1.4" fill="none"/>
<circle cx="406.4" cy="167.4" r="1.65" stroke="#2f7fbf" stroke-width="1.4" fill="none"/>
<circle cx="443.0" cy="176.5" r="1.65" stroke="#2f7fbf" stroke-width="1.4" fill="none"/>
<circle cx="481.5" cy="185.3" r="1.65" stroke="#2f7fbf" stroke-width="1.4" fill="none"/>
<circle cx="519.6" cy="194.4" r="1.65" stroke="#2f7fbf" stroke-width="1.4" fill="none"/>
<circle cx="558.0" cy="204.6" r="1.65" stroke="#2f7fbf" stroke-width="1.4" fill="none"/>
<circle cx="597.0" cy="213.4" r="1.65" stroke="#2f7fbf" stroke-width="1.4" fill="none"/>
<circle cx="634.0" cy="222.8" r="1.65" stroke="#2f7fbf" stroke-width="1.4" fill="none"/>
<path d="M389.0 158.6l2.45 4.5h-4.9ZM425.5 166.1l2.45 4.5h-4.9ZM461.5 174.4l2.45 4.5h-4.9ZM497.1 183.6l2.45 4.5h-4.9ZM534.0 191.7l2.45 4.5h-4.9ZM570.0 201.1l2.45 4.5h-4.9ZM608.0 209.8l2.45 4.5h-4.9ZM646.3 219.1l2.45 4.5h-4.9Z" stroke="#d9622b" stroke-width="1.45" fill="#d9622b" fill-opacity="0.4" stroke-linejoin="miter"/>
<circle cx="400.3" cy="164.9" r="1.65" stroke="#d9622b" stroke-width="1.4" fill="none"/>
<circle cx="437.2" cy="173.5" r="1.65" stroke="#d9622b" stroke-width="1.4" fill="none"/>
<circle cx="474.1" cy="181.7" r="1.65" stroke="#d9622b" stroke-width="1.4" fill="none"/>
<circle cx="513.3" cy="189.9" r="1.65" stroke="#d9622b" stroke-width="1.4" fill="none"/>
<circle cx="550.0" cy="200.0" r="1.65" stroke="#d9622b" stroke-width="1.4" fill="none"/>
<circle cx="586.8" cy="208.7" r="1.65" stroke="#d9622b" stroke-width="1.4" fill="none"/>
<circle cx="623.6" cy="218.6" r="1.65" stroke="#d9622b" stroke-width="1.4" fill="none"/>
<circle cx="659.8" cy="225.6" r="1.65" stroke="#d9622b" stroke-width="1.4" fill="none"/>
<path d="M389.9 155.1l2.45 4.5h-4.9ZM389.7 157.3l2.45 4.5h-4.9ZM425.4 162.8l2.45 4.5h-4.9ZM425.6 165.1l2.45 4.5h-4.9ZM461.4 171.3l2.45 4.5h-4.9ZM461.2 173.7l2.45 4.5h-4.9ZM496.5 179.0l2.45 4.5h-4.9ZM497.0 182.1l2.45 4.5h-4.9ZM530.4 183.9l2.45 4.5h-4.9ZM533.5 191.8l2.45 4.5h-4.9ZM569.1 190.1l2.45 4.5h-4.9ZM569.5 200.7l2.45 4.5h-4.9ZM604.4 198.4l2.45 4.5h-4.9ZM638.8 207.7l2.45 4.5h-4.9Z" stroke="#43a843" stroke-width="1.45" fill="#43a843" fill-opacity="0.4" stroke-linejoin="miter"/>
<circle cx="604.4" cy="215.0" r="1.65" stroke="#43a843" stroke-width="1.4" fill="none"/>
<circle cx="640.8" cy="223.1" r="1.65" stroke="#43a843" stroke-width="1.4" fill="none"/>
<circle cx="623.8" cy="219.2" r="1.65" stroke="#43a843" stroke-width="1.4" fill="none"/>
</g>
<rect class="ln" x="367.9" y="149.5" width="295.70000000000005" height="83.6" stroke-width="1.1"/>
<path class="ln" stroke-width="1" d="M441.8 233.1v-3M441.8 149.5v3M515.7 233.1v-3M515.7 149.5v3M589.7 233.1v-3M589.7 149.5v3"/>
<text class="t" x="484.8" y="175.3">7×10<tspan dy="-5" font-size="8.6">−3</tspan><tspan dy="5"> BER</tspan></text>
<text class="k" x="362.6" y="175.8" text-anchor="end">10<tspan dy="-4.9" font-size="8.4">−2</tspan></text>
<text class="k" x="362.6" y="223.1" text-anchor="end">10<tspan dy="-4.9" font-size="8.4">−3</tspan></text>
<text class="k" x="367.9" y="248.2" text-anchor="middle">22</text>
<text class="k" x="441.8" y="248.2" text-anchor="middle">24</text>
<text class="k" x="515.7" y="248.2" text-anchor="middle">26</text>
<text class="k" x="589.7" y="248.2" text-anchor="middle">28</text>
<text class="k" x="663.6" y="248.2" text-anchor="middle">30</text>
<text class="t" x="514.5" y="265.6" text-anchor="middle">OSNR (dB)</text>
<text class="t" transform="translate(333.4 191.8) rotate(-90)" text-anchor="middle">BER</text>
<rect class="ln wf" x="552.8" y="140.8" width="131.5" height="43.2" fill="#fff" stroke-width="1.1"/>
<path d="M555 149.6H566.2" stroke="#2f7fbf" stroke-width="1.6"/>
<text class="t" x="571.2" y="153.79999999999998">1540 nm</text>
<path d="M555 163.3H566.2" stroke="#d9622b" stroke-width="1.6"/>
<text class="t" x="571.2" y="167.5">1551 nm</text>
<path d="M555 176.8H566.2" stroke="#43a843" stroke-width="1.6"/>
<text class="t" x="571.2" y="181.0">1564 nm</text>
<path d="M635.3 152.8l3.5 6.6h-7Z" stroke="#111" stroke-width="1.7" fill="none"/>
<circle cx="634.9" cy="173" r="2.4" stroke="#111" stroke-width="1.6" fill="none"/>
<text class="t" x="643.8" y="160.6">Comb</text>
<text class="t" x="643.8" y="177.3">Laser</text>
</g>
</svg></body></html>
